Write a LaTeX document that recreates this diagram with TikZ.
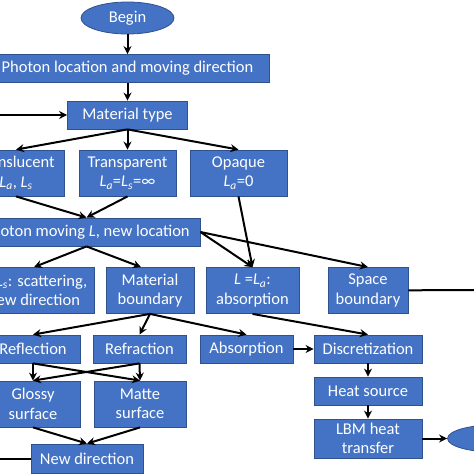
\documentclass[tikz,border=0pt]{standalone}
\usepackage{fontspec}
\setmainfont{Carlito}
\usepackage{tikz}
\usetikzlibrary{shapes.geometric, arrows.meta}
\newcommand{\Labs}{\textit{L}\textsubscript{\textit{a}}}
\newcommand{\Lsca}{\textit{L}\textsubscript{\textit{s}}}
\definecolor{boxblue}{HTML}{4472C4}
\definecolor{boxedge}{HTML}{2F528F}
\tikzstyle{process} = [rectangle, fill=boxblue, draw=boxedge, line width=0.8pt,
    text=white, inner sep=0pt, align=center, minimum height=28pt,
    font=\fontsize{16.5}{19.5}\selectfont]
\tikzstyle{tall} = [process, minimum height=46pt]
\tikzstyle{terminal} = [ellipse, fill=boxblue, draw=boxedge, line width=0.8pt,
    text=white, inner sep=0pt, minimum width=93pt, minimum height=32pt,
    font=\fontsize{16.5}{19.5}\selectfont]
\tikzstyle{arrow} = [line width=2pt, -{Stealth[length=8pt,width=8pt]}]
\tikzstyle{link} = [line width=2pt]

\begin{document}
\begin{tikzpicture}[x=1pt, y=1pt]

        \useasboundingbox (0,0) rectangle (474,-474);

        \node (begin) [terminal] at (127.5,-18) {Begin};
        \node (loc) [process, minimum width=283pt, below of=begin,
            node distance=50.5pt] {Photon location and moving direction};
        \node (mtype) [process, minimum width=120pt, below of=loc,
            node distance=46.5pt] {Material type};

        % material kinds
        \node (transp) [tall, minimum width=97pt, below of=mtype,
            node distance=58pt] {Transparent\\\Labs=\Lsca=∞};
        \node (transl) [tall, minimum width=97pt, left of=transp,
            node distance=111.5pt] {Translucent\\\Labs, \Lsca};
        \node (opaque) [tall, minimum width=97pt, right of=transp,
            node distance=111pt] {Opaque\\\Labs=0};

        \node (move) [process, minimum width=227pt] at (86.5,-232)
            {Photon moving \textit{L}, new location};

        % outcomes of moving
        \node (scat) [tall, minimum width=120pt] at (34,-290.5)
            {\textit{L}=\Lsca: scattering,\\new direction};
        \node (mbound) [tall, minimum width=88pt] at (150,-290.5)
            {Material\\boundary};
        \node (absl) [tall, minimum width=93pt] at (252.5,-290.5)
            {\textit{L} =\Labs:\\absorption};
        \node (space) [tall, minimum width=80pt] at (368,-290.5)
            {Space\\boundary};

        \node (refl) [process, minimum width=94pt] at (33,-349) {Reflection};
        \node (refr) [process, minimum width=93pt] at (139.5,-349) {Refraction};
        \node (absorb) [process, minimum width=93pt] at (246.5,-349) {Absorption};
        \node (discr) [process, minimum width=108pt] at (368,-349)
            {Discretization};

        \node (glossy) [tall, minimum width=94pt] at (33,-404) {Glossy\\surface};
        \node (matte) [tall, minimum width=92pt] at (140,-404) {Matte\\surface};
        \node (newdir) [process, minimum width=112pt, minimum height=29pt]
            at (87,-458.5) {New direction};

        % heat part
        \node (heat) [process, minimum width=108pt, below of=discr,
            node distance=42pt] {Heat source};
        \node (lbm) [process, minimum width=108pt, minimum height=39pt,
            below of=heat, node distance=47.5pt] {LBM heat\\transfer};
        \node (end) [terminal, minimum height=27pt, right of=lbm,
            node distance=126pt] {};

        % loose ends at the edges
        \coordinate (backin) at (0,-115);
        \coordinate (backout) at (0,-458.5);
        \coordinate (spaceout) at (474,-290);

        % arrows
        \draw [arrow] (begin) -- (loc) ;
        \draw [arrow] (loc) -- (mtype) ;
        \draw [arrow] (backin) -- (mtype) ;

        \draw [arrow] (mtype.south) -- (transl.north) ;
        \draw [arrow] (mtype.south) -- (transp.north) ;
        \draw [arrow] (mtype.south) -- (opaque.north) ;

        \draw [arrow] (transl.south) -- (move.north) ;
        \draw [arrow] (transp.south) -- (move.north) ;
        \draw [arrow] (opaque.south) -- (absl.north) ;

        \draw [arrow] (move.east) -- (absl.north) ;
        \draw [arrow] (move.east) -- (space.north) ;
        \draw [arrow] (move.south) -- (scat.north) ;
        \draw [arrow] (move.south) -- ([xshift=-9pt]mbound.north) ;

        \draw [arrow] (mbound.south) -- (refl.north) ;
        \draw [arrow] (mbound.south) -- (refr.north) ;
        \draw [arrow] (mbound.south) -- (absorb.north) ;
        \draw [arrow] (absl.south) -- (discr.north) ;
        \draw [arrow] (absorb) -- (discr) ;

        \draw [arrow] (refl.south) -- (glossy.north) ;
        \draw [arrow] (refl.south) -- (matte.north) ;
        \draw [arrow] (refr.south) -- (matte.north) ;
        \draw [arrow] (refr.south) -- (glossy.north) ;

        \draw [arrow] (glossy.south) -- (newdir.north) ;
        \draw [arrow] (matte.south) -- (newdir.north) ;
        \draw [link] (newdir) -- (backout) ;

        \draw [link] (space) -- (spaceout) ;
        \draw [arrow] (discr) -- (heat) ;
        \draw [arrow] (heat) -- (lbm) ;
        \draw [arrow] (lbm) -- (end) ;

    \end{tikzpicture}
\end{document}
